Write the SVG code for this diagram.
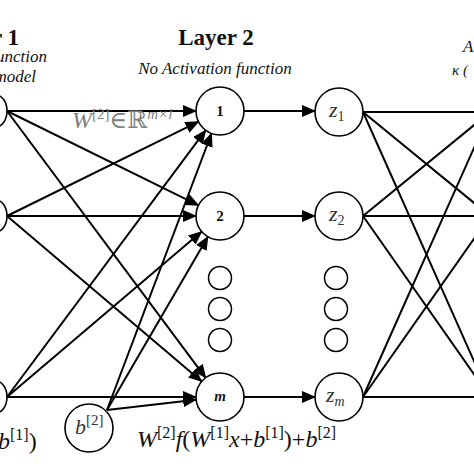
<svg xmlns="http://www.w3.org/2000/svg" width="474" height="474" viewBox="0 0 474 474">
<style>
.n{fill:#fff;stroke:#000;stroke-width:1.6}
.s{fill:#fff;stroke:#000;stroke-width:1.5}
.c line{stroke:#000;stroke-width:2}
.a{marker-end:url(#ah)}
.t{font-family:"Liberation Serif","DejaVu Serif",serif;fill:#111}
.h{font-weight:bold;font-size:23px}
.i{font-style:italic}
.nl{font-weight:bold;font-size:15px;text-anchor:middle}
.z{font-size:22px;font-style:italic;fill:#333}
.g{fill:#808080}
</style>
<defs>
<marker id="ah" markerUnits="userSpaceOnUse" markerWidth="14" markerHeight="12" viewBox="0 0 14 12" refX="13" refY="6" orient="auto">
<path d="M0,0 L14,6 L0,12 Z" fill="#000"/>
</marker>
</defs>
<g class="c" id="connectors">
<line class="a" x1="7" y1="111" x2="196" y2="111"/>
<line class="a" x1="7" y1="111" x2="198.5" y2="205.4"/>
<line class="a" x1="7" y1="111" x2="205.7" y2="377.8"/>
<line class="a" x1="7" y1="216" x2="198.5" y2="121.6"/>
<line class="a" x1="7" y1="216" x2="196" y2="216"/>
<line class="a" x1="7" y1="216" x2="201.7" y2="381.4"/>
<line class="a" x1="7" y1="397" x2="205.7" y2="130.2"/>
<line class="a" x1="7" y1="397" x2="201.7" y2="231.6"/>
<line class="a" x1="7" y1="397" x2="196" y2="397"/>
<line class="a" x1="107" y1="410" x2="211.5" y2="133.5"/>
<line class="a" x1="107" y1="410" x2="207.9" y2="236.7"/>
<line class="a" x1="107" y1="410" x2="196.1" y2="399.7"/>
<line class="a" x1="244" y1="111" x2="315" y2="111"/>
<line class="a" x1="244" y1="216" x2="315" y2="216"/>
<line class="a" x1="244" y1="397" x2="315" y2="397"/>
<line x1="363" y1="112" x2="490" y2="112"/>
<line x1="363" y1="112" x2="490" y2="216"/>
<line x1="363" y1="112" x2="490" y2="397"/>
<line x1="363" y1="216" x2="490" y2="112"/>
<line x1="363" y1="216" x2="490" y2="216"/>
<line x1="363" y1="216" x2="490" y2="397"/>
<line x1="363" y1="397" x2="490" y2="112"/>
<line x1="363" y1="397" x2="490" y2="216"/>
<line x1="363" y1="397" x2="490" y2="397"/>
</g>
<g id="in1"><ellipse class="n" cx="-4" cy="111" rx="11" ry="16"/></g>
<g id="in2"><ellipse class="n" cx="-4" cy="216" rx="11" ry="16"/></g>
<g id="in3"><ellipse class="n" cx="-4" cy="397" rx="11" ry="16"/></g>
<g id="h1"><circle class="n" cx="220" cy="111" r="24"/><text class="t nl" x="220" y="116">1</text></g>
<g id="h2"><circle class="n" cx="220" cy="216" r="24"/><text class="t nl" x="220" y="221">2</text></g>
<g id="hm"><circle class="n" cx="220" cy="397" r="24"/><text class="t nl i" x="220" y="401">m</text></g>
<g id="hdots"><circle class="s" cx="220" cy="278" r="11.5"/><circle class="s" cx="220" cy="309" r="11.5"/><circle class="s" cx="220" cy="340" r="11.5"/></g>
<g id="z1"><circle class="n" cx="339" cy="112" r="24"/><text class="t z" x="329" y="117">z<tspan font-size="14" font-style="normal" dy="4">1</tspan></text></g>
<g id="z2"><circle class="n" cx="339" cy="216" r="24"/><text class="t z" x="329" y="221">z<tspan font-size="14" font-style="normal" dy="4">2</tspan></text></g>
<g id="zm"><circle class="n" cx="339" cy="397" r="24"/><text class="t z" x="326" y="402">z<tspan font-size="14" dy="4">m</tspan></text></g>
<g id="zdots"><circle class="s" cx="336" cy="278" r="11.5"/><circle class="s" cx="336" cy="309" r="11.5"/><circle class="s" cx="336" cy="340" r="11.5"/></g>
<g id="b2"><circle class="n" cx="89" cy="428" r="24"/><text class="t z" x="75" y="434">b<tspan font-size="15" font-style="normal" dy="-9">[2]</tspan></text></g>
<g id="labels">
<text class="t h" x="19" y="45" text-anchor="end">Layer 1</text>
<text class="t i" x="47" y="62" font-size="17" text-anchor="end">function</text>
<text class="t i" x="36" y="82" font-size="17" text-anchor="end">model</text>
<text class="t h" x="216" y="45" text-anchor="middle">Layer 2</text>
<text class="t i" x="215" y="74" font-size="17" text-anchor="middle">No Activation function</text>
<text class="t i" x="463" y="52" font-size="17">A</text>
<text class="t i" x="452" y="75" font-size="15">κ (</text>
<text class="t g" x="72" y="128" font-size="24"><tspan font-style="italic">W</tspan><tspan font-size="15" dy="-9">[2]</tspan><tspan dy="9">∈ℝ</tspan><tspan font-size="15" font-style="italic" dy="-9">m×l</tspan></text>
<text class="t" x="137" y="447" font-size="24"><tspan font-style="italic">W</tspan><tspan font-size="16" dy="-9">[2]</tspan><tspan font-style="italic" dy="9">f</tspan>(<tspan font-style="italic">W</tspan><tspan font-size="16" dy="-9">[1]</tspan><tspan font-style="italic" dy="9">x</tspan>+<tspan font-style="italic">b</tspan><tspan font-size="16" dy="-9">[1]</tspan><tspan dy="9">)+</tspan><tspan font-style="italic">b</tspan><tspan font-size="16" dy="-9">[2]</tspan></text>
<text class="t" x="-2" y="449" font-size="24"><tspan font-style="italic">b</tspan><tspan font-size="16" dy="-9">[1]</tspan><tspan dy="9">)</tspan></text>
</g>
</svg>
